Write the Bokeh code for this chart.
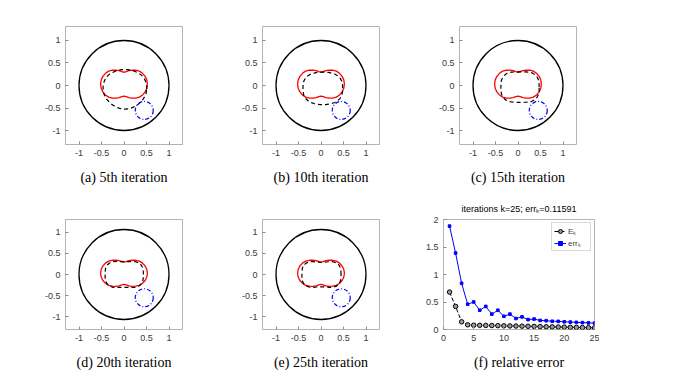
import numpy as np
from bokeh.plotting import figure
from bokeh.layouts import column, row
from bokeh.models import Range1d, FixedTicker, Legend, LegendItem
from bokeh.embed import file_html
from bokeh.resources import INLINE

# ---------------- data ----------------
angles_deg = list(range(0, 360, 10))

# true inclusion (red), radii around its centre
true_center = [0.0, 0.03]
true_radii = [0.52, 0.515, 0.50, 0.476, 0.445, 0.40, 0.358, 0.318, 0.278, 0.262,
              0.278, 0.318, 0.358, 0.40, 0.445, 0.476, 0.50, 0.515,
              0.52, 0.515, 0.50, 0.476, 0.445, 0.40, 0.358, 0.318, 0.278, 0.262,
              0.278, 0.318, 0.358, 0.40, 0.445, 0.476, 0.50, 0.515]

captions = ["(a) 5th iteration", "(b) 10th iteration", "(c) 15th iteration",
            "(d) 20th iteration", "(e) 25th iteration"]

rec_center_5 = [0.02, -0.08]
rec_radii_5 = [0.485, 0.49, 0.49, 0.49, 0.48, 0.465, 0.45, 0.44, 0.435, 0.43,
               0.435, 0.44, 0.45, 0.465, 0.48, 0.49, 0.49, 0.49,
               0.485, 0.48, 0.47, 0.46, 0.45, 0.445, 0.44, 0.44, 0.44, 0.44,
               0.44, 0.44, 0.44, 0.445, 0.45, 0.46, 0.47, 0.48]
rec_center_10 = [0.04, -0.06]
rec_radii_10 = [0.44, 0.445, 0.45, 0.445, 0.43, 0.41, 0.385, 0.37, 0.36, 0.355,
                0.36, 0.37, 0.385, 0.41, 0.43, 0.445, 0.45, 0.445,
                0.44, 0.445, 0.45, 0.445, 0.43, 0.41, 0.39, 0.375, 0.365, 0.36,
                0.365, 0.375, 0.39, 0.41, 0.43, 0.445, 0.45, 0.445]
rec_center_15 = [0.045, -0.035]
rec_radii_15 = [0.425, 0.43, 0.44, 0.44, 0.43, 0.41, 0.38, 0.355, 0.34, 0.335,
                0.34, 0.355, 0.38, 0.41, 0.43, 0.44, 0.44, 0.43,
                0.425, 0.43, 0.44, 0.44, 0.43, 0.41, 0.38, 0.355, 0.34, 0.335,
                0.34, 0.355, 0.38, 0.41, 0.43, 0.44, 0.44, 0.43]
rec_center_20 = [0.005, 0.0]
rec_radii_20 = [0.425, 0.43, 0.44, 0.44, 0.425, 0.395, 0.355, 0.325, 0.31, 0.305,
                0.31, 0.325, 0.355, 0.395, 0.425, 0.44, 0.44, 0.43,
                0.425, 0.43, 0.44, 0.44, 0.425, 0.395, 0.355, 0.325, 0.31, 0.305,
                0.31, 0.325, 0.355, 0.395, 0.425, 0.44, 0.44, 0.43]
rec_center_25 = [0.01, 0.0]
rec_radii_25 = [0.435, 0.44, 0.45, 0.45, 0.43, 0.395, 0.35, 0.315, 0.295, 0.29,
                0.295, 0.315, 0.35, 0.395, 0.43, 0.45, 0.45, 0.44,
                0.435, 0.44, 0.45, 0.45, 0.43, 0.395, 0.35, 0.315, 0.295, 0.29,
                0.295, 0.315, 0.35, 0.395, 0.43, 0.45, 0.45, 0.44]

domain_x = [0.0]
domain_y = [0.0]
domain_r = [1.0]
ball_x = [0.45]
ball_y = [-0.55]
ball_r = [0.2]

shape_ticks = [-1, -0.5, 0, 0.5, 1]
shape_tick_labels = ["-1", "-0.5", "0", "0.5", "1"]

iters = list(range(1, 26))
E_k = [0.68, 0.42, 0.14, 0.085, 0.078, 0.076, 0.074, 0.072, 0.07, 0.067,
       0.065, 0.063, 0.061, 0.058, 0.056, 0.053, 0.05, 0.048, 0.045, 0.043,
       0.04, 0.038, 0.035, 0.033, 0.03]
err_k = [1.88, 1.39, 0.84, 0.46, 0.50, 0.35, 0.42, 0.28, 0.35, 0.24,
         0.28, 0.20, 0.23, 0.18, 0.19, 0.165, 0.16, 0.15, 0.148, 0.14,
         0.135, 0.13, 0.125, 0.12, 0.11591]
err_x_ticks = [0, 5, 10, 15, 20, 25]
err_x_labels = ["0", "5", "10", "15", "20", "25"]
err_y_ticks = [0, 0.5, 1, 1.5, 2]
err_y_labels = ["0", "0.5", "1", "1.5", "2"]
err_title = "iterations k=25; err\u2096=0.11591"
err_caption = "(f) relative error"

# ---------------- helpers ----------------
FRAME = "#b4b4b4"
TICKFONT = "Liberation Sans"
PAD = 8  # page margin offset


def style_axes(p, xt, xl, yt, yl, caption):
    p.outline_line_color = FRAME
    p.outline_line_width = 1
    p.grid.visible = False
    p.background_fill_color = "white"
    p.border_fill_color = "white"
    for ax in (p.xaxis[0], p.yaxis[0]):
        ax.axis_line_color = None
        ax.major_tick_in = 3
        ax.major_tick_out = 0
        ax.major_tick_line_color = "#8c8c8c"
        ax.minor_tick_line_color = None
        ax.major_label_text_font = TICKFONT
        ax.major_label_text_font_size = "9px"
        ax.major_label_text_color = "#3a3a3a"
        ax.major_label_standoff = 5
    p.xaxis.ticker = FixedTicker(ticks=xt)
    p.xaxis.major_label_overrides = {float(t): s for t, s in zip(xt, xl)}
    p.yaxis.ticker = FixedTicker(ticks=yt)
    p.yaxis.major_label_overrides = {float(t): s for t, s in zip(yt, yl)}
    p.xaxis.axis_label = caption
    p.xaxis.axis_label_text_font = "Liberation Serif"
    p.xaxis.axis_label_text_font_style = "normal"
    p.xaxis.axis_label_text_font_size = "14px"
    p.xaxis.axis_label_text_color = "black"
    p.xaxis.axis_label_standoff = 11


def polar_xy(center, radii):
    th = np.deg2rad(np.array(angles_deg + [angles_deg[0]], dtype=float))
    r = np.array(list(radii) + [radii[0]], dtype=float)
    return center[0] + r * np.cos(th), center[1] + r * np.sin(th)


def shape_panel(caption, rc, rr, first_col, first_row):
    left = 57 + (PAD if first_col else 0)
    top = 18 + (PAD if first_row else 0)
    bottom = 50 if first_row else 42
    width = left + 117 + 23
    height = top + 118 + bottom
    p = figure(width=width, height=height, x_range=Range1d(-1.3, 1.3),
               y_range=Range1d(-1.3, 1.3), output_backend="svg",
               toolbar_location=None, min_border_left=left, min_border_right=23,
               min_border_top=top, min_border_bottom=bottom)
    p.circle(x=domain_x, y=domain_y, radius=domain_r, fill_color=None,
             line_color="black", line_width=1.3)
    tx, ty = polar_xy(true_center, true_radii)
    p.line(tx, ty, line_color="#ff0000", line_width=1.3)
    rx, ry = polar_xy(rc, rr)
    p.line(rx, ry, line_color="black", line_width=1.2, line_dash="4 3")
    p.circle(x=ball_x, y=ball_y, radius=ball_r, fill_color=None,
             line_color="#0000ff", line_width=1.2, line_dash="4 2 1 2")
    style_axes(p, shape_ticks, shape_tick_labels, shape_ticks, shape_tick_labels, caption)
    return p


pa = shape_panel(captions[0], rec_center_5, rec_radii_5, True, True)
pb = shape_panel(captions[1], rec_center_10, rec_radii_10, False, True)
pc = shape_panel(captions[2], rec_center_15, rec_radii_15, False, True)
pd = shape_panel(captions[3], rec_center_20, rec_radii_20, True, False)
pe = shape_panel(captions[4], rec_center_25, rec_radii_25, False, False)

pf = figure(width=197, height=178, x_range=Range1d(0, 25), y_range=Range1d(0, 2),
            output_backend="svg", toolbar_location=None, min_border_left=41,
            min_border_right=5, min_border_top=25, min_border_bottom=42)
l1 = pf.line(iters, E_k, line_color="black", line_width=1, line_dash="4 2")
s1 = pf.scatter(iters, E_k, marker="circle", size=4.5, line_color="black",
                line_width=1, fill_color="#9a9a9a")
l2 = pf.line(iters, err_k, line_color="#0000ff", line_width=1)
s2 = pf.scatter(iters, err_k, marker="square", size=2.6, line_color="#0000ff",
                fill_color="#0000ff")
style_axes(pf, err_x_ticks, err_x_labels, err_y_ticks, err_y_labels, err_caption)
pf.title.text = err_title
pf.title.align = "center"
pf.title.text_font = TICKFONT
pf.title.text_font_style = "normal"
pf.title.text_font_size = "9px"
pf.title.text_color = "black"
pf.title.standoff = 12

legend = Legend(items=[LegendItem(label="E\u2096", renderers=[l1, s1]),
                       LegendItem(label="err\u2096", renderers=[l2, s2])],
                location="top_right")
legend.border_line_color = FRAME
legend.background_fill_color = "white"
legend.label_text_font = TICKFONT
legend.label_text_font_size = "8px"
legend.glyph_width = 12
legend.glyph_height = 10
legend.label_height = 10
legend.label_standoff = 2
legend.spacing = 1
legend.padding = 2
legend.margin = 3
pf.add_layout(legend)

layout = column(row(pa, pb, pc), row(pd, pe, pf))
open("out.html", "w").write(file_html(layout, INLINE))
